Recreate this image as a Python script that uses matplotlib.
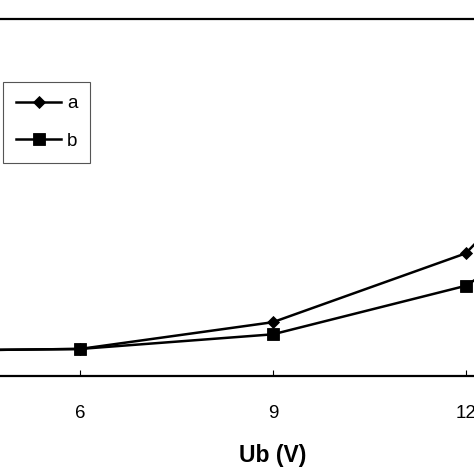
import matplotlib
matplotlib.use("Agg")
import matplotlib.pyplot as plt

# data (Ub in V)
ub = [3, 6, 9, 12, 15]
series_a = [6.9, 7.5, 15.0, 34.3, 90.0]
series_b = [6.9, 7.5, 11.6, 25.2, 60.0]
xticks = [6, 9, 12]
xlabel = "Ub (V)"
labels = ["a", "b"]

plt.rcParams['font.family'] = ['Liberation Sans', 'DejaVu Sans']

W = 474.0
fig = plt.figure(figsize=(4.74, 4.74), dpi=100)
bottom = 1 - 375.7 / W
top = 1 - 19 / W
ax = fig.add_axes([0, bottom, 1, top - bottom])

ax.plot(ub, series_a, color='black', lw=1.8, marker='D', ms=6.2, mec='black', mew=0.6, label=labels[0])
ax.plot(ub, series_b, color='black', lw=1.8, marker='s', ms=8.3, mec='black', mew=0.6, label=labels[1])

px_per_unit = (465.7 - 80) / 6.0
ax.set_xlim(6 - 80 / px_per_unit, 6 + (W - 80) / px_per_unit)
ax.set_ylim(0, 100)

ax.spines['left'].set_visible(False)
ax.spines['right'].set_visible(False)
ax.spines['bottom'].set_linewidth(1.6)
ax.spines['top'].set_linewidth(1.6)

ax.set_xticks(xticks)
ax.set_xticklabels([str(t) for t in xticks])
ax.tick_params(axis='x', direction='in', length=4.5, width=0.8, pad=21, labelsize=13.5)
ax.set_yticks([])

fig.text(273 / W, 1 - 462 / W, xlabel, ha='center', va='baseline',
         fontsize=16.5, fontweight='bold')

leg = ax.legend(loc='upper left', bbox_to_anchor=(3 / W, 1 - 82 / W),
                bbox_transform=fig.transFigure, borderaxespad=0,
                fontsize=13.5, handlelength=2.4, handletextpad=0.3,
                labelspacing=1.1, borderpad=0.7, fancybox=False,
                framealpha=1, edgecolor='#555555')
leg.get_frame().set_linewidth(0.8)

fig.savefig("out.png", dpi=100)
